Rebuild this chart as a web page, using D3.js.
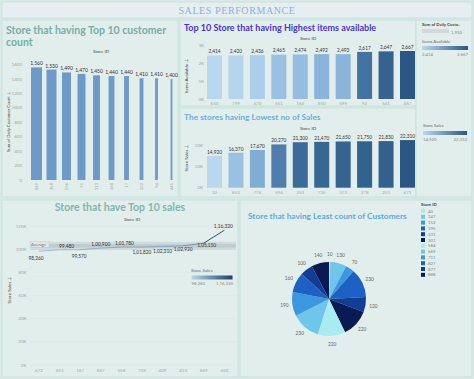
<!DOCTYPE html>
<html><head><meta charset="utf-8">
<script src="https://cdn.jsdelivr.net/npm/d3@7"></script>
<style>
html,body{margin:0;padding:0;background:#dbe9e6;}
svg{display:block;font-family:Lato,"Open Sans",sans-serif;}
</style></head>
<body>
<script>
// ---------- DATA ----------
const custStores = ["849","358","536","91","313","360","17","232","84","445"];
const custValues = [1560,1530,1490,1470,1450,1440,1440,1410,1410,1400];
const custTicks = [0,200,400,600,800,1000,1200,1400,1600];

const itemStores = ["650","799","470","551","164","850","599","92","541","467"];
const itemValues = [2414,2420,2436,2465,2474,2492,2493,2617,2647,2667];
const itemTicks = [0,1000,2000,3000];

const lowStores = ["32","853","776","594","353","726","373","278","253","671"];
const lowValues = [14920,16370,17670,20270,21300,21470,21650,21750,21830,22310];
const lowTicks = [0,10000,20000];

const topStores = ["672","693","167","867","558","759","409","433","869","650"];
const topValues = [98260,99480,99570,100900,101780,101820,102310,102920,105150,116320];
const topLabels = ["98,260","99,480","99,570","1,00,900","1,01,780","1,01,820","1,02,310","1,02,920","1,05,150","1,16,320"];
const topTicks = [0,20000,40000,60000,80000,100000,120000];

const pieStores = ["40","147","152","195","231","301","584","669","711","827","877","888"];
const pieValues = [10,130,70,230,120,220,220,230,190,160,100,140];

const W = 474, H = 379;
const svg = d3.select("body").append("svg").attr("width",W).attr("height",H);
const fmt = d3.format(",");
const kfmt = v => (v/1000)+"K";
const tickCol = "#a0a8a8", labCol = "#555";

// panels
const panels = [
  {x:2,y:2,w:470,h:16,fill:"#e7eef2"},
  {x:2,y:20,w:176,h:177},
  {x:180,y:20,w:236,h:86},
  {x:180,y:108,w:236,h:89},
  {x:416,y:20,w:56,h:177},
  {x:2,y:200,w:236,h:177},
  {x:240,y:200,w:232,h:177}
];
svg.selectAll("rect.panel").data(panels).join("rect").attr("class","panel")
  .attr("x",d=>d.x).attr("y",d=>d.y).attr("width",d=>d.w).attr("height",d=>d.h)
  .attr("fill",d=>d.fill||"#e2eeeb").attr("stroke","#c6e3dc").attr("stroke-width",1);

svg.append("text").attr("x",237).attr("y",14).attr("text-anchor","middle")
  .attr("font-family","'Liberation Serif','DejaVu Serif',serif").attr("font-size",10)
  .attr("letter-spacing",0.6).attr("fill","#86b4da").text("SALES PERFORMANCE");

// ---------- Chart 1 ----------
{
  const g = svg.append("g");
  g.append("text").attr("x",6).attr("y",34).attr("font-size",10.5).attr("font-weight","bold")
    .attr("fill","#76aea7").text("Store that having Top 10 customer");
  g.append("text").attr("x",6).attr("y",46).attr("font-size",10.5).attr("font-weight","bold")
    .attr("fill","#76aea7").text("count");
  g.append("text").attr("x",101).attr("y",53).attr("text-anchor","middle").attr("font-size",4.5).attr("fill","#444").text("Store ID");
  const y = d3.scaleLinear().domain([0,1600]).range([180,64.5]);
  const x = d3.scalePoint().domain(custStores).range([36.5,171.5]);
  const wScale = d3.scaleLinear().domain([0,9]).range([11,1.8]);
  g.selectAll("text.yt").data(custTicks).join("text").attr("class","yt")
    .attr("x",22).attr("y",d=>y(d)+1.6).attr("text-anchor","end").attr("font-size",4.5).attr("fill",tickCol).text(d=>d);
  g.selectAll("rect.bar").data(custValues).join("rect").attr("class","bar")
    .attr("x",(d,i)=>x(custStores[i])-wScale(i)/2).attr("width",(d,i)=>wScale(i))
    .attr("y",d=>y(d)).attr("height",d=>y(0)-y(d)).attr("fill","#6d9ac8");
  g.selectAll("text.vl").data(custValues).join("text").attr("class","vl")
    .attr("x",(d,i)=>x(custStores[i])).attr("y",d=>y(d)-2).attr("text-anchor","middle")
    .attr("font-size",5).attr("fill","#333").text(d=>fmt(d));
  g.selectAll("text.xl").data(custStores).join("text").attr("class","xl")
    .attr("transform",d=>`translate(${x(d)+1.5},${183}) rotate(-90)`).attr("text-anchor","end")
    .attr("font-size",4).attr("fill",tickCol).text(d=>d);
  g.append("text").attr("transform","translate(10,122) rotate(-90)").attr("text-anchor","middle")
    .attr("font-size",4.3).attr("fill","#444").text("Sum of Daily Customer Count ⊥");
}

// ---------- Blue bar helper ----------
function blueBars(opts){
  const {stores, values, ticks, yRange, title, titleColor, titleY, storeIdY, xlY, axisTitle, axisTitleY, tickX} = opts;
  const g = svg.append("g");
  g.append("text").attr("x",184).attr("y",titleY).attr("font-size",opts.titleSize).attr("font-weight","bold")
    .attr("fill",titleColor).text(title);
  g.append("text").attr("x",308).attr("y",storeIdY).attr("text-anchor","middle").attr("font-size",4.5).attr("fill","#444").text("Store ID");
  const y = d3.scaleLinear().domain([0,ticks[ticks.length-1]]).range(yRange);
  const x = d3.scalePoint().domain(stores).range([214.5,407.5]);
  const col = d3.scaleSequential(d3.interpolateRgbBasis(["#b9d8ef","#6d9fd0","#2a5783"])).domain(d3.extent(values));
  g.selectAll("text.yt").data(ticks).join("text").attr("class","yt")
    .attr("x",tickX).attr("y",d=>y(d)+1.6).attr("text-anchor","end").attr("font-size",4.5).attr("fill",tickCol).text(kfmt);
  g.selectAll("rect.bar").data(values).join("rect").attr("class","bar")
    .attr("x",(d,i)=>x(stores[i])-7.5).attr("width",15)
    .attr("y",d=>y(d)).attr("height",d=>y(0)-y(d)).attr("fill",d=>col(d));
  g.selectAll("text.vl").data(values).join("text").attr("class","vl")
    .attr("x",(d,i)=>x(stores[i])).attr("y",d=>y(d)-2.2).attr("text-anchor","middle")
    .attr("font-size",4.8).attr("fill","#333").text(d=>fmt(d));
  g.selectAll("text.xl").data(stores).join("text").attr("class","xl")
    .attr("x",d=>x(d)).attr("y",xlY).attr("text-anchor","middle").attr("font-size",4.5).attr("fill",tickCol).text(d=>d);
  g.append("text").attr("transform",`translate(188,${axisTitleY}) rotate(-90)`).attr("text-anchor","middle")
    .attr("font-size",4.5).attr("fill","#444").text(axisTitle);
  return col;
}
blueBars({stores:itemStores, values:itemValues, ticks:itemTicks, yRange:[99,45],
  title:"Top 10 Store that having Highest items available", titleColor:"#4a35cf", titleSize:9, titleY:31,
  storeIdY:39.5, xlY:104.5, axisTitle:"Items Available ⊥", axisTitleY:76, tickX:204});
blueBars({stores:lowStores, values:lowValues, ticks:lowTicks, yRange:[187.7,145],
  title:"The stores having  Lowest no of Sales", titleColor:"#6aaede", titleSize:8.4, titleY:120,
  storeIdY:129.5, xlY:194, axisTitle:"Store Sales ⊥", axisTitleY:158, tickX:203});

// legends (top right)
const defs = svg.append("defs");
function grad(id, c0, c1){
  const lg = defs.append("linearGradient").attr("id",id);
  lg.append("stop").attr("offset","0%").attr("stop-color",c0);
  lg.append("stop").attr("offset","100%").attr("stop-color",c1);
}
grad("gBlue","#b9d8ef","#2a5783");
grad("gLine","#b9d8ef","#1f3d6b");
{
  const g = svg.append("g").attr("font-size",4.3);
  g.append("text").attr("x",422).attr("y",26).attr("font-weight","bold").attr("fill","#444").text("Sum of Daily Custo..");
  g.append("rect").attr("x",422).attr("y",29).attr("width",27).attr("height",4).attr("fill","#d4d8d8");
  g.append("text").attr("x",462).attr("y",33.5).attr("text-anchor","end").attr("fill","#888").text("1,920");
  g.append("text").attr("x",422).attr("y",43).attr("fill","#666").text("Items Available");
  g.append("rect").attr("x",422).attr("y",46).attr("width",46).attr("height",4).attr("fill","url(#gBlue)");
  g.append("text").attr("x",422).attr("y",56).attr("fill","#888").text(fmt(d3.min(itemValues)));
  g.append("text").attr("x",468).attr("y",56).attr("text-anchor","end").attr("fill","#888").text(fmt(d3.max(itemValues)));
  g.append("text").attr("x",423).attr("y",127).attr("fill","#666").text("Store Sales");
  g.append("rect").attr("x",423).attr("y",131).attr("width",44).attr("height",4).attr("fill","url(#gBlue)");
  g.append("text").attr("x",423).attr("y",141).attr("fill","#888").text(fmt(d3.min(lowValues)));
  g.append("text").attr("x",467).attr("y",141).attr("text-anchor","end").attr("fill","#888").text(fmt(d3.max(lowValues)));
}

// ---------- Chart 4 (line) ----------
{
  const g = svg.append("g");
  g.append("text").attr("x",120).attr("y",211).attr("text-anchor","middle").attr("font-size",10.5).attr("font-weight","bold")
    .attr("fill","#7fb6ae").text("Store that have Top 10 sales");
  g.append("text").attr("x",132).attr("y",220.5).attr("text-anchor","middle").attr("font-size",4.5).attr("fill","#444").text("Store ID");
  const y = d3.scaleLinear().domain([0,120000]).range([365,226]);
  const x = d3.scalePoint().domain(topStores).range([39,224.3]);
  g.selectAll("line.grid").data(topTicks).join("line").attr("class","grid")
    .attr("x1",30).attr("x2",236).attr("y1",d=>y(d)).attr("y2",d=>y(d)).attr("stroke","#d6e5e2").attr("stroke-width",0.5);
  g.selectAll("text.yt").data(topTicks).join("text").attr("class","yt")
    .attr("x",26.5).attr("y",d=>y(d)+1.6).attr("text-anchor","end").attr("font-size",4.5).attr("fill",tickCol).text(kfmt);
  const avg = d3.mean(topValues);
  g.append("rect").attr("x",30).attr("width",206).attr("y",y(avg+3500)).attr("height",y(avg-3500)-y(avg+3500))
    .attr("fill","#c9d3d6").attr("opacity",0.7);
  g.append("rect").attr("x",30).attr("width",206).attr("y",y(avg+1500)).attr("height",y(avg-1500)-y(avg+1500))
    .attr("fill","#b9c4c8").attr("opacity",0.7);
  g.append("rect").attr("x",30).attr("y",y(avg)-4.5).attr("width",19).attr("height",6).attr("fill","#dfe6e8").attr("stroke","#b0bcc0").attr("stroke-width",0.3);
  g.append("text").attr("x",31).attr("y",y(avg)-0.3).attr("font-size",4.3).attr("fill","#777").text("Average");
  const lc = d3.scaleLinear().domain(d3.extent(topValues)).range(["#9fbfdc","#1f3d6b"]);
  const pts = topValues.map((v,i)=>({x:x(topStores[i]),y:y(v),v}));
  g.selectAll("line.seg").data(pts.slice(1)).join("line").attr("class","seg")
    .attr("x1",(d,i)=>pts[i].x).attr("y1",(d,i)=>pts[i].y).attr("x2",d=>d.x).attr("y2",d=>d.y)
    .attr("stroke",d=>lc(d.v)).attr("stroke-width",0.9);
  const dy = [9,-2,8,-2,-2,7,7,5,4,-2];
  const dx = [-3,7,-1,0,3,0,0,0,3,-1];
  g.selectAll("text.vl").data(topLabels).join("text").attr("class","vl")
    .attr("x",(d,i)=>pts[i].x+dx[i]).attr("y",(d,i)=>pts[i].y+dy[i]).attr("text-anchor","middle")
    .attr("font-size",4.8).attr("fill","#333").text(d=>d);
  g.selectAll("text.xl").data(topStores).join("text").attr("class","xl")
    .attr("x",d=>x(d)).attr("y",372).attr("text-anchor","middle").attr("font-size",4.5).attr("fill",tickCol).text(d=>d);
  g.append("text").attr("transform","translate(11,290) rotate(-90)").attr("text-anchor","middle")
    .attr("font-size",4.5).attr("fill","#444").text("Store Sales ⊥");
  g.append("text").attr("x",191).attr("y",272).attr("font-size",4.5).attr("fill","#666").text("Store Sales");
  g.append("rect").attr("x",191.5).attr("y",275.5).attr("width",41).attr("height",4).attr("fill","url(#gLine)");
  g.append("text").attr("x",191.5).attr("y",285).attr("font-size",4.3).attr("fill","#888").text(topLabels[0]);
  g.append("text").attr("x",233).attr("y",285).attr("text-anchor","end").attr("font-size",4.3).attr("fill","#888").text(topLabels[9]);
}

// ---------- Chart 5 (pie) ----------
{
  const g = svg.append("g");
  g.append("text").attr("x",248).attr("y",219).attr("font-size",8.3).attr("font-weight","bold")
    .attr("fill","#5ea9e2").text("Store that having Least count of Customers");
  const palette = ["#a8ecf1","#6ec6ea","#3b98df","#1b60c2","#113e92","#0a1a54"];
  const color = d3.scaleOrdinal().domain(pieStores).range(palette.concat(palette));
  const cx=329, cy=299, r=37;
  const arcs = d3.pie().sort(null).value(d=>d)(pieValues);
  const arc = d3.arc().innerRadius(0).outerRadius(r);
  const lab = d3.arc().innerRadius(r+8).outerRadius(r+8);
  const pg = g.append("g").attr("transform",`translate(${cx},${cy})`);
  pg.selectAll("path").data(arcs).join("path").attr("d",arc).attr("fill",(d,i)=>color(pieStores[i]));
  pg.selectAll("text").data(arcs).join("text")
    .attr("transform",d=>`translate(${lab.centroid(d)})`).attr("dy","0.35em").attr("text-anchor","middle")
    .attr("font-size",4.8).attr("fill","#666").text(d=>d.data);
  // legend
  const lg = svg.append("g").attr("font-size",4.3);
  lg.append("text").attr("x",421).attr("y",206).attr("font-weight","bold").attr("fill","#444").text("Store ID");
  const it = lg.selectAll("g.it").data(pieStores).join("g").attr("class","it")
    .attr("transform",(d,i)=>`translate(421,${209+i*5.8})`);
  it.append("rect").attr("width",4).attr("height",4).attr("fill",d=>color(d));
  it.append("text").attr("x",7).attr("y",3.6).attr("fill","#888").text(d=>d);
}
</script>
</body></html>
